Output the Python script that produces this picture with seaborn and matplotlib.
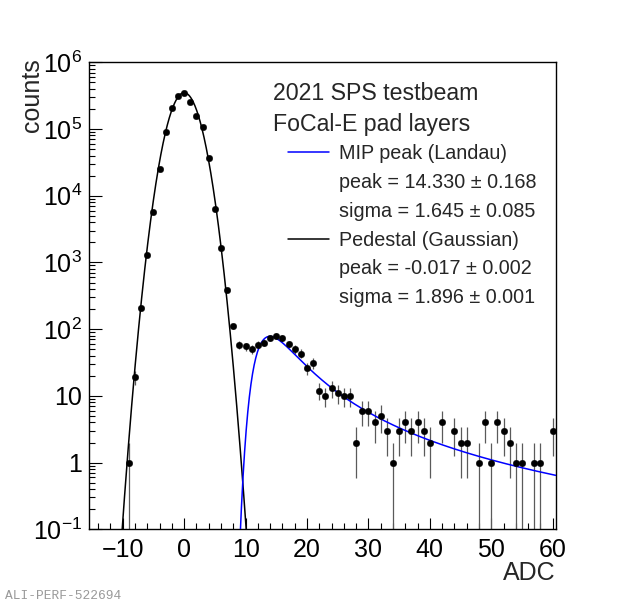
import numpy as np
import matplotlib
matplotlib.use('Agg')
import matplotlib.pyplot as plt
import seaborn as sns
from matplotlib.ticker import MultipleLocator, LogLocator, FixedLocator, FixedFormatter, NullFormatter
from matplotlib.lines import Line2D

# Histogram (bin centre, counts)
adc = [-9, -8, -7, -6, -5, -4, -3, -2, -1, 0, 1, 2, 3, 4, 5, 6, 7, 8, 9, 10,
       11, 12, 13, 14, 15, 16, 17, 18, 19, 20, 21, 22, 23, 24, 25, 26, 27, 28, 29, 30,
       31, 32, 33, 34, 35, 36, 37, 38, 39, 40, 42, 44, 45, 46, 48, 49, 50, 51, 52, 53,
       54, 55, 57, 58, 60]
counts = [1, 19, 207, 1300, 5660, 24900, 90200, 206000, 312000, 346000,
          257000, 159000, 106000, 36800, 6340, 1650, 385, 111, 58, 55,
          50, 58, 63, 74, 79, 73, 59, 50, 43, 26, 31, 12, 10, 13, 11, 10, 10, 2, 6, 6,
          4, 5, 3, 1, 3, 4, 3, 4, 3, 2, 4, 3, 2, 2, 1, 4, 1, 4, 3, 2,
          1, 1, 1, 1, 3]

# Fit curves
gaus_amp, gaus_mean, gaus_sigma = 3.5e5, 0.0, 1.84
landau_amp, landau_mpv, landau_sigma = 432.0, 14.33, 1.645

legend_labels = ['MIP peak (Landau)', 'peak = 14.330 ± 0.168', 'sigma = 1.645 ± 0.085',
                 'Pedestal (Gaussian)', 'peak = -0.017 ± 0.002', 'sigma = 1.896 ± 0.001']

# Landau density (same as ROOT TMath::Landau, not normalised by sigma)
t = np.linspace(1e-12, 45, 450001)
tlogt = t * np.log(t)
sinpt = np.sin(np.pi * t)


def landau(lam):
    return np.array([np.trapezoid(np.exp(-tlogt - l * t) * sinpt, t) / np.pi for l in lam])


x_gaus = np.linspace(-12, 12, 800)
y_gaus = gaus_amp * np.exp(-0.5 * ((x_gaus - gaus_mean) / gaus_sigma) ** 2)
x_lan = np.linspace(8.8, 60.5, 400)
y_lan = landau_amp * landau((x_lan - landau_mpv) / landau_sigma)

sns.set_style('ticks')
plt.rcParams['font.family'] = ['Liberation Sans', 'DejaVu Sans']
plt.rcParams['mathtext.fontset'] = 'custom'
plt.rcParams['mathtext.rm'] = 'Liberation Sans'
plt.rcParams['mathtext.default'] = 'regular'

fig, ax = plt.subplots(figsize=(6.2, 6.04), dpi=100)
fig.subplots_adjust(left=89 / 620, right=555.7 / 620, bottom=1 - 529.3 / 604, top=1 - 62.3 / 604)
ax.set_yscale('log')

ax.errorbar(adc, counts, yerr=np.sqrt(counts), fmt='none', ecolor='#5a5a5a',
            elinewidth=0.9, capsize=0, zorder=2)
sns.lineplot(x=x_gaus, y=y_gaus, color='black', lw=1.1, sort=False, estimator=None, ax=ax, zorder=3)
sns.lineplot(x=x_lan, y=y_lan, color='blue', lw=1.1, sort=False, estimator=None, ax=ax, zorder=3)
sns.scatterplot(x=adc, y=counts, color='black', s=22, edgecolor='black', linewidth=0.3, ax=ax, zorder=4)

ax.set_xlim(-15.5, 60.5)
ax.set_ylim(0.1, 1e6)
ax.xaxis.set_major_locator(MultipleLocator(10))
ax.xaxis.set_minor_locator(MultipleLocator(2))
decades = [0.1, 1, 10, 100, 1e3, 1e4, 1e5, 1e6]
ax.yaxis.set_major_locator(FixedLocator(decades))
ax.yaxis.set_major_formatter(FixedFormatter(['$10^{-1}$', '1', '10', '$10^{2}$', '$10^{3}$',
                                             '$10^{4}$', '$10^{5}$', '$10^{6}$']))
ax.yaxis.set_minor_locator(LogLocator(base=10, subs=np.arange(2, 10), numticks=20))
ax.yaxis.set_minor_formatter(NullFormatter())

ax.tick_params(axis='both', which='both', direction='in', top=False, right=False,
               colors='black', width=0.8, labelsize=18)
ax.tick_params(axis='x', which='major', length=8, pad=6)
ax.tick_params(axis='x', which='minor', length=4)
ax.tick_params(axis='y', which='major', length=9, pad=5)
ax.tick_params(axis='y', which='minor', length=4.3)
for s in ax.spines.values():
    s.set_color('black')
    s.set_linewidth(1.0)

ax.set_xlabel('ADC', fontsize=18, loc='right')
ax.xaxis.set_label_coords(1.0, -0.068)
ax.set_ylabel('counts', fontsize=18, loc='top')
ax.yaxis.set_label_coords(-0.097, 1.009)

fig.text(273 / 620, 1 - 100 / 604, '2021 SPS testbeam', fontsize=16.7, va='baseline')
fig.text(273 / 620, 1 - 131 / 604, 'FoCal-E pad layers', fontsize=16.7, va='baseline')

handles = [Line2D([], [], color='blue', lw=1.1), Line2D([], [], color='none'), Line2D([], [], color='none'),
           Line2D([], [], color='black', lw=1.1), Line2D([], [], color='none'), Line2D([], [], color='none')]
ax.legend(handles, legend_labels, loc='upper left', bbox_to_anchor=(288 / 620, 1 - 144 / 604),
          bbox_transform=fig.transFigure, frameon=False, fontsize=14.2, handlelength=2.1,
          handletextpad=0.5, labelspacing=0.5, borderpad=0, borderaxespad=0)

fig.text(5 / 620, 1 - 599 / 604, 'ALI-PERF-522694', family='Liberation Mono', fontsize=9.3,
         color='#999999', va='baseline')

plt.savefig('out.png', dpi=100)
